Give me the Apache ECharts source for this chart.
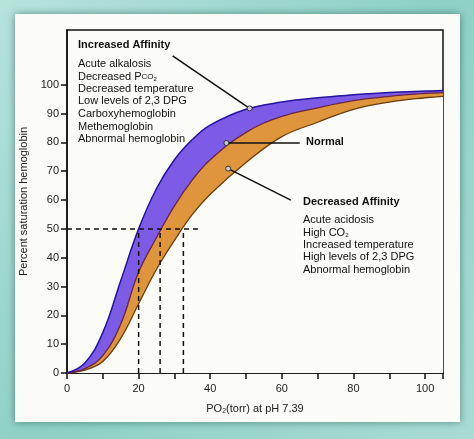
<!DOCTYPE html>
<html>
<head>
<meta charset="utf-8">
<script src="https://cdn.jsdelivr.net/npm/echarts@6/dist/echarts.min.js"></script>
<style>html,body{margin:0;padding:0;}#main{width:474px;height:439px;}</style>
</head>
<body>
<div id="main"></div>
<script>
// PO2 values (torr)
var po2 = [0, 5, 10, 15, 20, 25, 30, 35, 40, 50, 60, 70, 80, 90, 100, 105];
// percent saturation for each curve
var increased = [0, 3.5, 14, 32, 50, 64, 74, 81, 86, 91.5, 94, 95.5, 96.5, 97.3, 97.8, 98];
var normal    = [0, 1.5, 6, 17, 35, 47, 58, 67, 74, 83.5, 89, 92, 94.5, 96, 97, 97.3];
var decreased = [0, 1, 4, 12, 24, 36, 46, 55, 62, 73, 82, 87, 91.5, 94, 95.5, 96];
// P50 values
var p50 = [20, 26, 32.5];
// axis ticks
var yTicks = [0, 10, 20, 30, 40, 50, 60, 70, 80, 90, 100];

var font = 'Liberation Sans';
var paper = '#fbfbf7';
function pairs(ys) { return po2.map(function (x, i) { return [x, ys[i]]; }); }

var dashStyle = { color: '#111', width: 1.5, type: [5, 4] };
var dashSeries = [{ data: [[0, 50], [37, 50]] }].concat(p50.map(function (p) {
    return { data: [[p, 0], [p, 50]] };
})).map(function (d) {
    return { type: 'line', data: d.data, symbol: 'none', lineStyle: dashStyle, z: 5, silent: true };
});

function leader(from, to) {
    return {
        type: 'line', z: 6, silent: true,
        data: [{ value: from, symbol: 'circle' }, { value: to, symbol: 'none' }],
        lineStyle: { color: '#111', width: 1.5 },
        symbolSize: 5, showSymbol: true,
        itemStyle: { color: '#ccc', borderColor: '#333', borderWidth: 1 }
    };
}
function area(ys, fill, z) {
    return { type: 'line', data: pairs(ys), smooth: 0.4, symbol: 'none', z: z,
        lineStyle: { width: 0 }, areaStyle: { color: fill, opacity: 1 } };
}
function edge(ys, color, w) {
    return { type: 'line', data: pairs(ys), smooth: 0.4, symbol: 'none', z: 4, lineStyle: { color: color, width: w } };
}

var chart = echarts.init(document.getElementById('main'));
var txt = function (x, y, s, bold) {
    return { type: 'text', left: x, top: y, z: 20,
        style: { text: s, font: (bold ? 'bold ' : '') + '11px ' + font, fill: '#111' } };
};
var listA = ['Acute alkalosis', '', 'Decreased temperature', 'Low levels of 2,3 DPG',
    'Carboxyhemoglobin', 'Methemoglobin', 'Abnormal hemoglobin'];
var listB = ['Acute acidosis', '', 'Increased temperature', 'High levels of 2,3 DPG', 'Abnormal hemoglobin'];
var graphics = [
    { type: 'rect', z: -10, shape: { x: 0, y: 0, width: 474, height: 439 },
      style: { fill: new echarts.graphic.LinearGradient(0, 0, 1, 1, [
          { offset: 0, color: '#b7e3da' }, { offset: 0.5, color: '#8fd0c4' }, { offset: 1, color: '#a9dcd2' }]) } },
    { type: 'rect', z: -9, shape: { x: 15, y: 14, width: 445, height: 408 },
      style: { fill: paper, shadowBlur: 8, shadowColor: 'rgba(0,60,50,0.5)' } },
    txt(78, 39, 'Increased Affinity', true),
    txt(303, 196, 'Decreased Affinity', true),
    txt(306, 136, 'Normal', true),
    { type: 'text', left: 78, top: 71, z: 20,
      style: { text: '{a|Decreased P}{s|CO}{b|2}', rich: {
          a: { font: '11px ' + font, fill: '#111' },
          s: { font: '8px ' + font, fill: '#111' },
          b: { font: '6px ' + font, fill: '#111', padding: [6, 0, 0, 0] } } } },
    { type: 'text', left: 303, top: 227, z: 20,
      style: { text: '{a|High CO}{b|2}', rich: {
          a: { font: '11px ' + font, fill: '#111' },
          b: { font: '6px ' + font, fill: '#111', padding: [6, 0, 0, 0] } } } }
];
listA.forEach(function (s, i) { if (s) graphics.push(txt(78, 58 + i * 12.6, s)); });
listB.forEach(function (s, i) { if (s) graphics.push(txt(303, 214 + i * 12.6, s)); });

chart.setOption({
    animation: false,
    graphic: graphics,
    grid: { left: 67, right: 31, top: 30, bottom: 66, show: true, borderColor: '#111', borderWidth: 1.5, backgroundColor: 'transparent' },
    xAxis: {
        type: 'value', min: 0, max: 105, interval: 10,
        splitLine: { show: false },
        axisLine: { lineStyle: { color: '#111', width: 1.5 } },
        axisTick: { length: 6, lineStyle: { color: '#111', width: 1.5 } },
        axisLabel: { color: '#222', fontFamily: font, fontSize: 11, margin: 10,
            formatter: function (v) { return v % 20 === 0 && v <= 100 ? v : ''; } },
        name: '{a|PO}{b|2}{a|(torr) at pH 7.39}', nameLocation: 'middle', nameGap: 30,
        nameTextStyle: { rich: {
            a: { fontFamily: font, fontSize: 11, color: '#222' },
            b: { fontFamily: font, fontSize: 7, color: '#222', padding: [5, 0, 0, 0] } } }
    },
    yAxis: {
        type: 'value', min: 0, max: 119, interval: 10,
        splitLine: { show: false },
        axisLine: { lineStyle: { color: '#111', width: 1.5 } },
        axisTick: { length: 6, customValues: yTicks, lineStyle: { color: '#111', width: 1.5 } },
        axisLabel: { color: '#222', fontFamily: font, fontSize: 11, margin: 8, customValues: yTicks },
        name: 'Percent saturation hemoglobin', nameLocation: 'middle', nameGap: 38,
        nameTextStyle: { fontFamily: font, fontSize: 11, color: '#222' }
    },
    series: [
        area(increased, '#7c5ce6', 1),
        area(normal, '#df953c', 2),
        area(decreased, paper, 3),
        edge(decreased, '#6b3c08', 1.3),
        edge(normal, '#6a2448', 1.3),
        edge(increased, '#2414a0', 1.5),
        leader([51, 91.8], [29.5, 110]),
        leader([44.5, 79.8], [65, 79.8]),
        leader([45, 70.9], [62.5, 60])
    ].concat(dashSeries)
});
</script>
</body>
</html>
